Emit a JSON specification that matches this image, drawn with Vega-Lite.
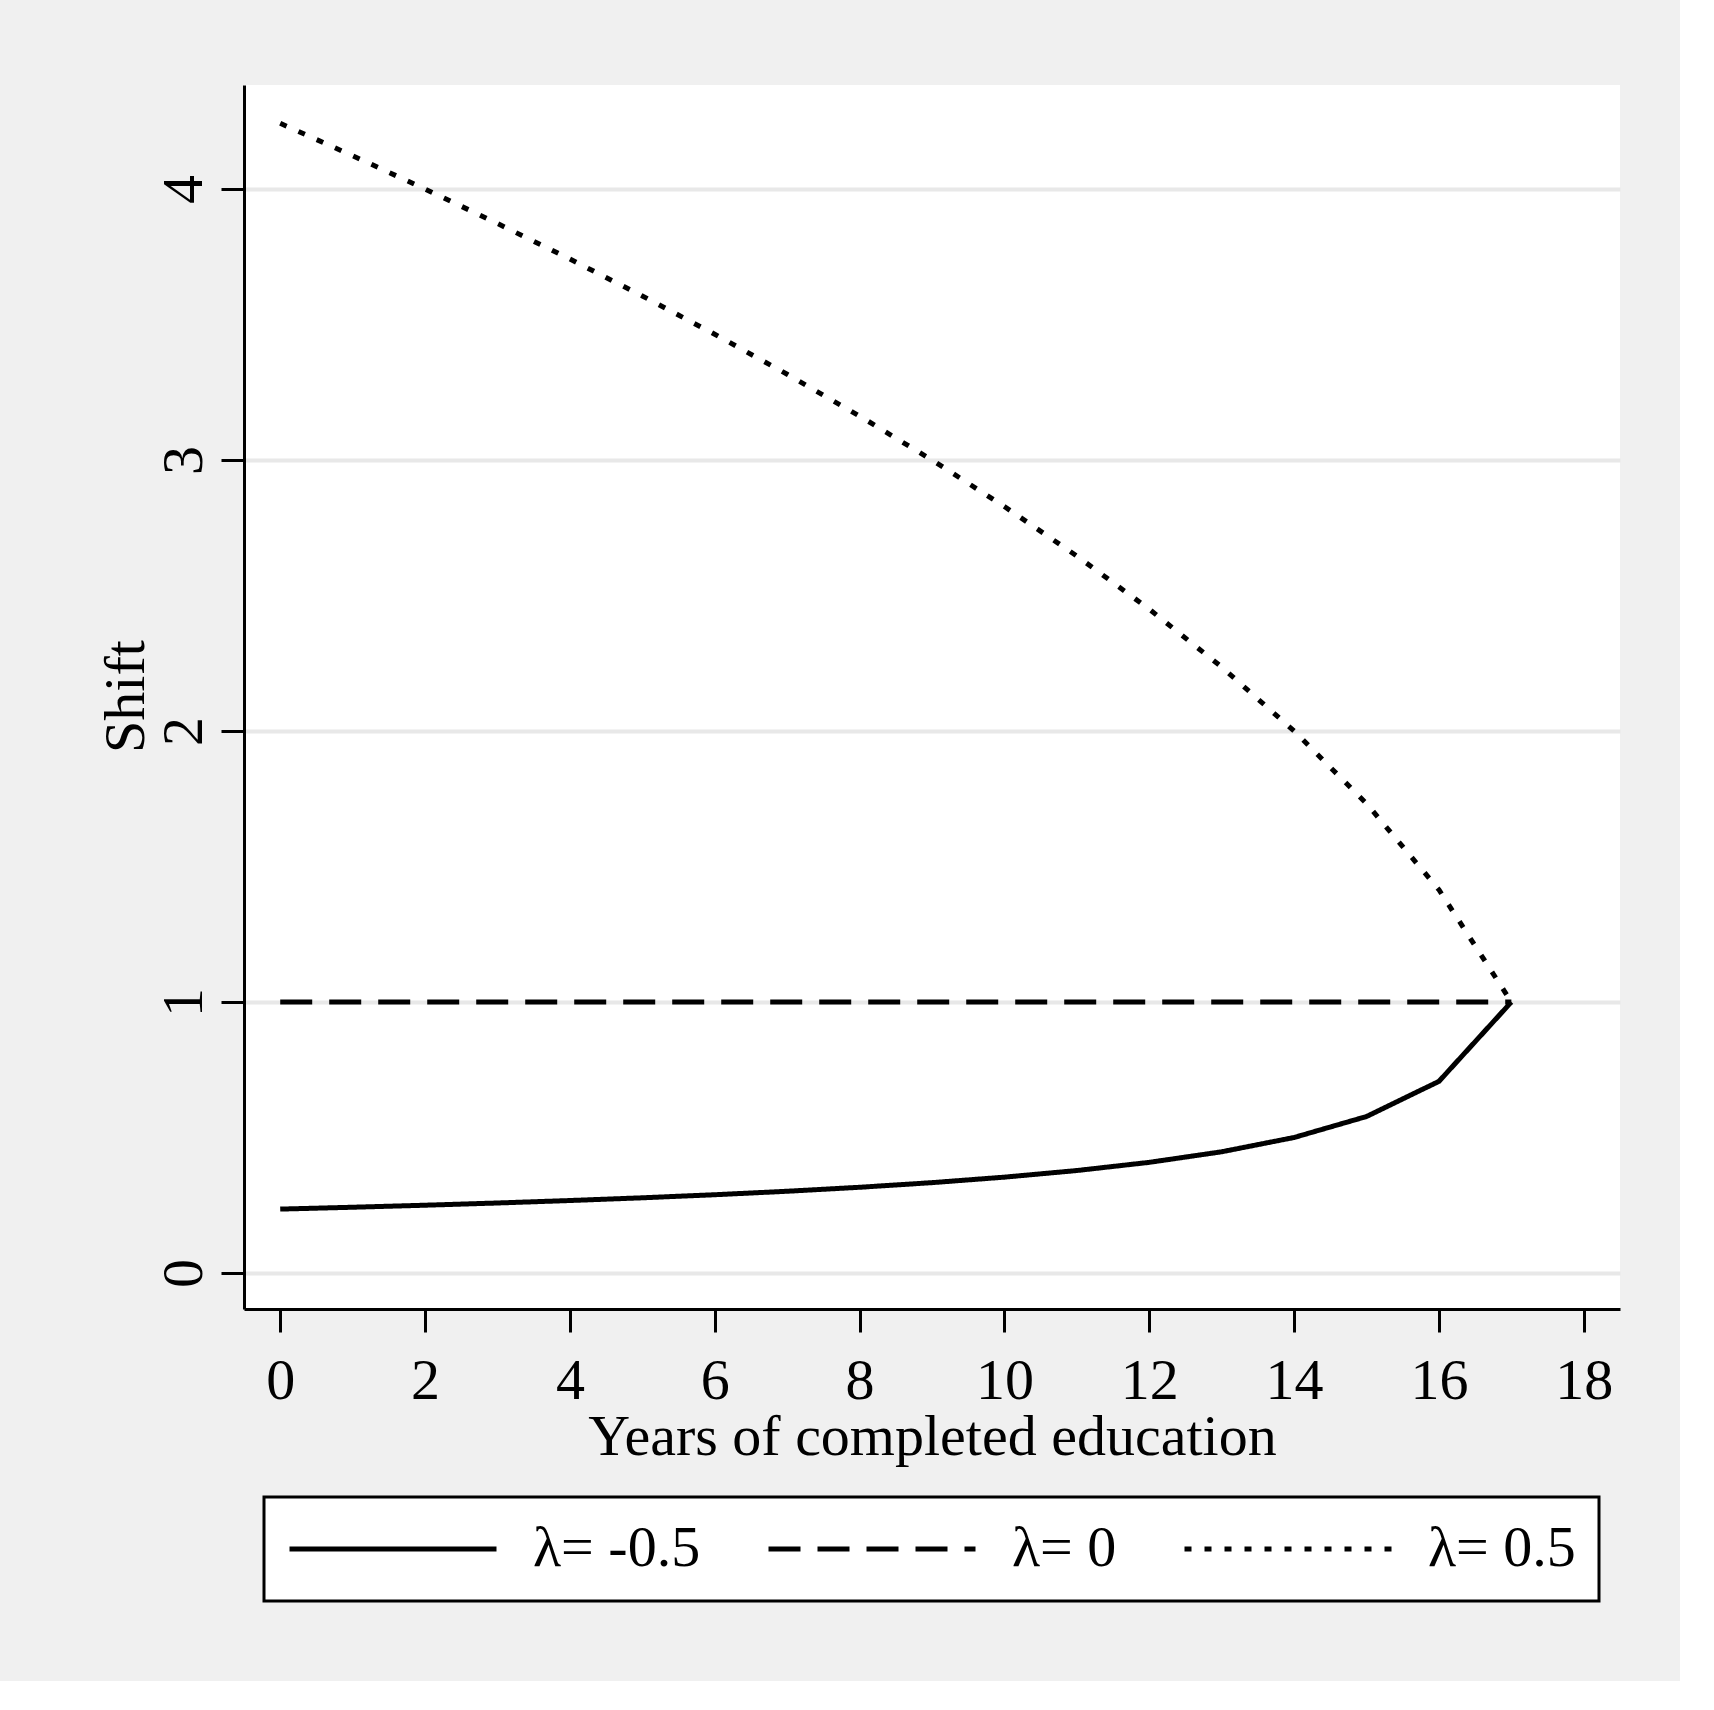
{
  "$schema": "https://vega.github.io/schema/vega-lite/v6.json",
  "autosize": "none",
  "width": 1376,
  "height": 1224,
  "padding": {"left": 244, "top": 85, "right": 60, "bottom": 372},
  "background": "#f0f0f0",
  "data": {
    "values": [
      {"educ": 0, "shift": 0.2357, "lambda": "λ= -0.5"},
      {"educ": 1, "shift": 0.2425, "lambda": "λ= -0.5"},
      {"educ": 2, "shift": 0.25, "lambda": "λ= -0.5"},
      {"educ": 3, "shift": 0.2582, "lambda": "λ= -0.5"},
      {"educ": 4, "shift": 0.2673, "lambda": "λ= -0.5"},
      {"educ": 5, "shift": 0.2774, "lambda": "λ= -0.5"},
      {"educ": 6, "shift": 0.2887, "lambda": "λ= -0.5"},
      {"educ": 7, "shift": 0.3015, "lambda": "λ= -0.5"},
      {"educ": 8, "shift": 0.3162, "lambda": "λ= -0.5"},
      {"educ": 9, "shift": 0.3333, "lambda": "λ= -0.5"},
      {"educ": 10, "shift": 0.3536, "lambda": "λ= -0.5"},
      {"educ": 11, "shift": 0.378, "lambda": "λ= -0.5"},
      {"educ": 12, "shift": 0.4082, "lambda": "λ= -0.5"},
      {"educ": 13, "shift": 0.4472, "lambda": "λ= -0.5"},
      {"educ": 14, "shift": 0.5, "lambda": "λ= -0.5"},
      {"educ": 15, "shift": 0.5774, "lambda": "λ= -0.5"},
      {"educ": 16, "shift": 0.7071, "lambda": "λ= -0.5"},
      {"educ": 17, "shift": 1.0, "lambda": "λ= -0.5"},
      {"educ": 0, "shift": 1, "lambda": "λ= 0"},
      {"educ": 1, "shift": 1, "lambda": "λ= 0"},
      {"educ": 2, "shift": 1, "lambda": "λ= 0"},
      {"educ": 3, "shift": 1, "lambda": "λ= 0"},
      {"educ": 4, "shift": 1, "lambda": "λ= 0"},
      {"educ": 5, "shift": 1, "lambda": "λ= 0"},
      {"educ": 6, "shift": 1, "lambda": "λ= 0"},
      {"educ": 7, "shift": 1, "lambda": "λ= 0"},
      {"educ": 8, "shift": 1, "lambda": "λ= 0"},
      {"educ": 9, "shift": 1, "lambda": "λ= 0"},
      {"educ": 10, "shift": 1, "lambda": "λ= 0"},
      {"educ": 11, "shift": 1, "lambda": "λ= 0"},
      {"educ": 12, "shift": 1, "lambda": "λ= 0"},
      {"educ": 13, "shift": 1, "lambda": "λ= 0"},
      {"educ": 14, "shift": 1, "lambda": "λ= 0"},
      {"educ": 15, "shift": 1, "lambda": "λ= 0"},
      {"educ": 16, "shift": 1, "lambda": "λ= 0"},
      {"educ": 17, "shift": 1, "lambda": "λ= 0"},
      {"educ": 0, "shift": 4.2426, "lambda": "λ= 0.5"},
      {"educ": 1, "shift": 4.1231, "lambda": "λ= 0.5"},
      {"educ": 2, "shift": 4.0, "lambda": "λ= 0.5"},
      {"educ": 3, "shift": 3.873, "lambda": "λ= 0.5"},
      {"educ": 4, "shift": 3.7417, "lambda": "λ= 0.5"},
      {"educ": 5, "shift": 3.6056, "lambda": "λ= 0.5"},
      {"educ": 6, "shift": 3.4641, "lambda": "λ= 0.5"},
      {"educ": 7, "shift": 3.3166, "lambda": "λ= 0.5"},
      {"educ": 8, "shift": 3.1623, "lambda": "λ= 0.5"},
      {"educ": 9, "shift": 3.0, "lambda": "λ= 0.5"},
      {"educ": 10, "shift": 2.8284, "lambda": "λ= 0.5"},
      {"educ": 11, "shift": 2.6458, "lambda": "λ= 0.5"},
      {"educ": 12, "shift": 2.4495, "lambda": "λ= 0.5"},
      {"educ": 13, "shift": 2.2361, "lambda": "λ= 0.5"},
      {"educ": 14, "shift": 2.0, "lambda": "λ= 0.5"},
      {"educ": 15, "shift": 1.7321, "lambda": "λ= 0.5"},
      {"educ": 16, "shift": 1.4142, "lambda": "λ= 0.5"},
      {"educ": 17, "shift": 1.0, "lambda": "λ= 0.5"}
    ]
  },
  "mark": {"type": "line", "color": "black", "strokeWidth": 5, "strokeCap": "butt"},
  "encoding": {
    "x": {
      "field": "educ",
      "type": "quantitative",
      "scale": {"domain": [-0.5, 18.5], "nice": false, "zero": false},
      "axis": {
        "title": "Years of completed education",
        "values": [0, 2, 4, 6, 8, 10, 12, 14, 16, 18],
        "grid": false,
        "labelBaseline": "alphabetic",
        "labelPadding": 66,
        "labelFlush": false,
        "titleBaseline": "alphabetic",
        "titleX": 688,
        "titleY": 145
      }
    },
    "y": {
      "field": "shift",
      "type": "quantitative",
      "scale": {"domain": [-0.133, 4.384], "nice": false, "zero": false},
      "axis": {
        "title": "Shift",
        "values": [0, 1, 2, 3, 4],
        "grid": true,
        "labelAngle": -90,
        "labelAlign": "center",
        "labelBaseline": "alphabetic",
        "labelPadding": 20,
        "titleAngle": -90,
        "titleAlign": "center",
        "titleBaseline": "alphabetic",
        "titleX": -101,
        "titleY": 611
      }
    },
    "strokeDash": {
      "field": "lambda",
      "type": "nominal",
      "scale": {
        "domain": ["λ= -0.5", "λ= 0", "λ= 0.5"],
        "range": [[1, 0], [32, 17], [7, 13]]
      },
      "legend": {"title": null}
    }
  },
  "config": {
    "view": {"fill": "white", "stroke": null},
    "axis": {
      "labelFont": "Liberation Serif",
      "labelFontSize": 58,
      "labelColor": "black",
      "titleFont": "Liberation Serif",
      "titleFontSize": 58,
      "titleFontWeight": "normal",
      "titleColor": "black",
      "domainColor": "black",
      "domainWidth": 3,
      "tickColor": "black",
      "tickWidth": 3,
      "tickSize": 23,
      "gridColor": "#e8e8e8",
      "gridWidth": 4,
      "gridOpacity": 1
    },
    "legend": {
      "orient": "none",
      "legendX": 20,
      "legendY": 1412,
      "direction": "horizontal",
      "columns": 3,
      "columnPadding": 65,
      "padding": 23,
      "strokeColor": "black",
      "strokeWidth": 3,
      "fillColor": "white",
      "symbolType": "stroke",
      "symbolSize": 42849,
      "symbolStrokeWidth": 5,
      "symbolStrokeColor": "black",
      "labelFont": "Liberation Serif",
      "labelFontSize": 58,
      "labelColor": "black",
      "labelOffset": 34,
      "labelLimit": 500,
      "clipHeight": 58
    }
  }
}
